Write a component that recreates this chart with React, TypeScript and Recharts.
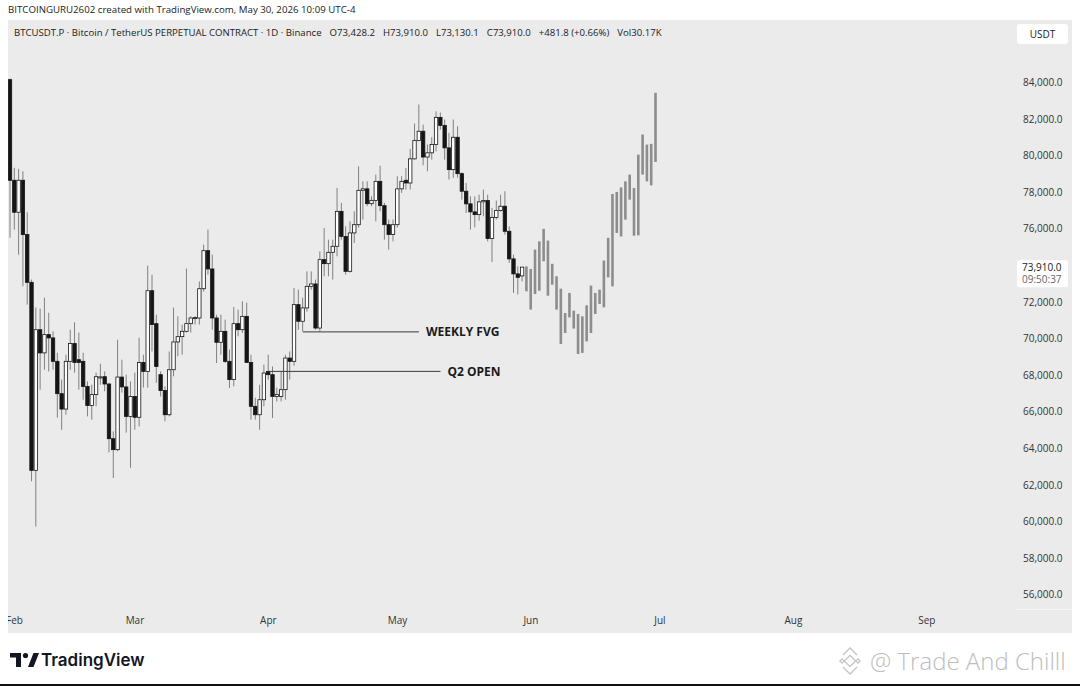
import React from "react";
import { Bar, ComposedChart, ReferenceLine, XAxis, YAxis } from "recharts";

// daily candles, Jan 31 .. May 30 (index 0 = Jan 31)
const OPEN = [
  84160, 78660, 76910, 78660, 75690, 73080, 62800, 70490, 69220, 70220,
  70040, 68760, 66990, 66150, 68760, 69730, 68850, 68760, 67390, 66340,
  66940, 67850, 67920, 67520, 64530, 63930, 67900, 67360, 65750, 66840,
  65700, 68700, 68210, 72620, 70820, 68030, 67160, 65840, 68300, 69820,
  70110, 70400, 70820, 71130, 71130, 72730, 74810, 73810, 71130, 69800,
  70400, 68760, 67760, 70820, 70490, 71220, 68700, 66300, 65840, 66660,
  68210, 68030, 66840, 66840, 67210, 68940, 68760, 71860, 70950, 71680,
  72860, 72990, 70580, 74320, 74100, 74720, 75050, 76960, 75590, 73680,
  75780, 76230, 78110, 78190, 77380, 77560, 78600, 77270, 76230, 75690,
  76230, 78190, 78660, 78510, 79830, 80840, 81340, 79930, 80160, 80610,
  82100, 81660, 80430, 79240, 81010, 79020, 78060, 77370, 76930, 76780,
  77480, 77550, 75470, 76630, 77000, 77240, 75870, 74360, 73540, 73428,
];
const HIGH = [
  84220, 79340, 79280, 79150, 76910, 73230, 71700, 71640, 72240, 71420,
  70400, 69230, 67760, 69120, 70490, 70890, 70330, 69230, 67660, 67480,
  68140, 68630, 68210, 67590, 64930, 69940, 68850, 68030, 67660, 68140,
  70050, 69120, 73990, 73500, 71310, 68210, 67390, 69300, 71700, 71220,
  70770, 73830, 71220, 71220, 73130, 75140, 75960, 74590, 71310, 71310,
  71040, 69400, 71730, 71590, 72040, 71970, 69120, 66770, 67480, 68580,
  69120, 68480, 67320, 68210, 69120, 69300, 72770, 72680, 72240, 73680,
  73680, 73230, 74770, 76050, 75410, 75410, 78240, 77420, 76140, 76410,
  76960, 79420, 78600, 78600, 77780, 78970, 79460, 77420, 76510, 76510,
  78880, 78880, 79330, 80370, 81760, 82800, 81700, 80610, 81010, 82430,
  82360, 81980, 81250, 81980, 81610, 79100, 78510, 77780, 77780, 77870,
  78150, 77870, 77150, 77550, 77870, 78060, 76140, 74590, 73950, 73910,
];
const LOW = [
  75520, 75960, 74590, 72860, 71860, 62200, 59730, 67210, 68300, 68200,
  68300, 65680, 65020, 65840, 68300, 68140, 67210, 66660, 65750, 65570,
  66300, 67480, 67120, 63780, 62380, 63840, 67050, 64860, 62940, 65020,
  65200, 67320, 67320, 69300, 67580, 66840, 65480, 65750, 67940, 69030,
  69120, 70330, 70330, 70770, 70770, 72570, 73500, 70490, 68670, 69120,
  68670, 67300, 67390, 70130, 70310, 68670, 65570, 65570, 65020, 66300,
  67760, 65660, 66570, 66570, 66660, 67760, 68520, 70490, 70400, 71480,
  72680, 70490, 70380, 73410, 73410, 73230, 74500, 75410, 73500, 73610,
  75230, 76070, 76510, 77240, 77240, 76410, 76960, 75410, 74870, 75320,
  76070, 77970, 78150, 78150, 79790, 80790, 79480, 79150, 79790, 80240,
  81430, 79790, 78700, 78790, 78800, 77600, 76870, 75960, 76090, 76450,
  76690, 75320, 74190, 76510, 76950, 75690, 74140, 72500, 72410, 73130,
];
const CLOSE = [
  78660, 76910, 78660, 75690, 73080, 62800, 70490, 69220, 70220, 70040,
  68760, 66990, 66150, 68760, 69730, 68700, 68700, 67390, 66340, 66940,
  67920, 67910, 67520, 64530, 63930, 67900, 67360, 65750, 66840, 65700,
  68700, 68210, 72620, 70770, 68480, 67160, 65840, 68300, 69820, 70110,
  70400, 70820, 71130, 71150, 72730, 74810, 73810, 71130, 69800, 70400,
  68760, 67760, 70820, 70490, 71220, 68700, 66300, 65840, 66660, 68120,
  68030, 66840, 66940, 67210, 68940, 68760, 71860, 70950, 71680, 72860,
  72990, 70580, 74320, 74100, 74720, 75050, 76960, 75590, 73680, 75780,
  76230, 78110, 78190, 77380, 77560, 78600, 77270, 76230, 75690, 76230,
  78190, 78600, 78510, 79830, 80840, 81340, 79930, 80160, 80610, 82100,
  81660, 80430, 79240, 81010, 79020, 78060, 77370, 76930, 76780, 77480,
  77550, 75470, 76630, 77000, 77240, 75870, 74360, 73540, 73350, 73910,
];

// projected path (bars pattern), May 31 .. Jun 30
const PROJ_HIGH = [
  73950, 73810, 74870, 75320, 76000, 75360, 74090, 73410, 72730, 71400,
  72500, 71530, 71350, 71220, 71820, 72900, 72500, 72680, 74270, 75510,
  77910, 78020, 78270, 78600, 78970, 78240, 80060, 81160, 80610, 80650,
  83440,
];
const PROJ_LOW = [
  72590, 71590, 72440, 72620, 74230, 72350, 72950, 71590, 69710, 70310,
  71160, 70550, 69160, 69220, 69850, 70310, 71350, 71900, 71710, 73350,
  72860, 75780, 75590, 76510, 77600, 75630, 75650, 78970, 78600, 78380,
  79660,
];

const MONTHS = ["Feb", "Mar", "Apr", "May", "Jun", "Jul", "Aug", "Sep"];
const MONTH_START = [1, 29, 60, 90, 121, 151, 182, 213];
// 74,000 sits under the last-price tag, so it is not printed
const PRICE_TICKS = [
  56000, 58000, 60000, 62000, 64000, 66000, 68000, 70000,
  72000, 76000, 78000, 80000, 82000, 84000,
];
const TOTAL_DAYS = 234;
const LAST_PRICE = 73910;
const WEEKLY_FVG = 70370;
const Q2_OPEN = 68210;

const data = Array.from({ length: TOTAL_DAYS }, (_, i) => {
  if (i < OPEN.length) {
    return { i, kind: "candle", o: OPEN[i], c: CLOSE[i], range: [LOW[i], HIGH[i]] };
  }
  const j = i - OPEN.length;
  if (j < PROJ_HIGH.length) {
    return { i, kind: "proj", range: [PROJ_LOW[j], PROJ_HIGH[j]] };
  }
  return { i, kind: "none", range: null };
});

const fmtPrice = (v: number) =>
  v.toLocaleString("en-US", { minimumFractionDigits: 1, maximumFractionDigits: 1 });

function Candle(props: any) {
  const { x, y, width, height, payload } = props;
  if (!payload || !payload.range) return null;
  const [lo, hi] = payload.range;
  const top = Math.min(y, y + height);
  const h = Math.abs(height);
  const cx = x + width / 2;
  if (payload.kind === "proj") {
    return <rect x={cx - 1.3} y={top} width={2.6} height={h} fill="#8d8d8d" />;
  }
  const py = (v: number) => top + ((hi - v) / (hi - lo || 1)) * h;
  const bTop = py(Math.max(payload.o, payload.c));
  const bBot = py(Math.min(payload.o, payload.c));
  const up = payload.c >= payload.o;
  return (
    <g>
      <line x1={cx} x2={cx} y1={top} y2={top + h} stroke="#808080" strokeWidth={1} />
      <rect
        x={cx - 1.7}
        y={bTop}
        width={3.4}
        height={Math.max(1, bBot - bTop)}
        fill={up ? "#ffffff" : "#151515"}
        stroke="#151515"
        strokeWidth={0.8}
      />
    </g>
  );
}

function PriceTag(props: any) {
  const vb = props.viewBox;
  if (!vb) return null;
  const x = vb.x + vb.width + 2;
  const y = vb.y;
  return (
    <g>
      <rect x={x} y={y - 7} width={51} height={27} rx={2} fill="#ffffff" />
      <text x={x + 5} y={y + 3.5} fontSize={10} fill="#222">{fmtPrice(LAST_PRICE)}</text>
      <text x={x + 5} y={y + 15.5} fontSize={10} fill="#666">09:50:37</text>
    </g>
  );
}

const lineLabel = (value: string) => ({
  value,
  position: "right" as const,
  offset: 7,
  fill: "#1a1a1a",
  fontSize: 12,
  fontWeight: 700,
});

export default function App() {
  return (
    <div
      style={{
        position: "absolute",
        left: 0,
        top: 0,
        width: 1080,
        height: 686,
        background: "#fff",
        overflow: "hidden",
        fontFamily: '"Open Sans", sans-serif',
      }}
    >
      <div style={{ position: "absolute", left: 8, top: 3, fontSize: 9.7, color: "#222", whiteSpace: "nowrap" }}>
        BITCOINGURU2602 created with TradingView.com, May 30, 2026 10:09 UTC-4
      </div>
      <div style={{ position: "absolute", left: 8, top: 20, width: 1064, height: 613, background: "#ebebeb" }}>
        <ComposedChart width={1064} height={613} data={data} margin={{ top: 26, right: 0, bottom: 0, left: 0 }}>
          <XAxis
            dataKey="i"
            interval={0}
            height={20}
            axisLine={false}
            tickLine={false}
            tickSize={0}
            tickMargin={4}
            tick={{ fontSize: 10, fill: "#333" }}
            tickFormatter={(v: number) => {
              const k = MONTH_START.indexOf(v);
              return k >= 0 ? MONTHS[k] : "";
            }}
          />
          <YAxis
            orientation="right"
            width={57}
            domain={[55000, 86000]}
            ticks={PRICE_TICKS}
            allowDataOverflow
            axisLine={false}
            tickLine={false}
            tickSize={0}
            tickMargin={8}
            tick={{ fontSize: 10, fill: "#333" }}
            tickFormatter={fmtPrice}
          />
          <Bar dataKey="range" barSize={4} shape={Candle} isAnimationActive={false} />
          <ReferenceLine
            segment={[{ x: 68, y: WEEKLY_FVG }, { x: 95, y: WEEKLY_FVG }]}
            stroke="#3c3c3c"
            strokeWidth={1}
            label={lineLabel("WEEKLY FVG")}
          />
          <ReferenceLine
            segment={[{ x: 60, y: Q2_OPEN }, { x: 100, y: Q2_OPEN }]}
            stroke="#3c3c3c"
            strokeWidth={1}
            label={lineLabel("Q2 OPEN")}
          />
          <ReferenceLine y={LAST_PRICE} stroke="none" label={(p: any) => <PriceTag {...p} />} />
        </ComposedChart>
        <div style={{ position: "absolute", left: 6, top: 6, fontSize: 9.6, color: "#222", whiteSpace: "nowrap" }}>
          BTCUSDT.P · Bitcoin / TetherUS PERPETUAL CONTRACT · 1D · Binance
          <span style={{ marginLeft: 8 }}>O73,428.2</span>
          <span style={{ marginLeft: 8 }}>H73,910.0</span>
          <span style={{ marginLeft: 8 }}>L73,130.1</span>
          <span style={{ marginLeft: 8 }}>C73,910.0</span>
          <span style={{ marginLeft: 8 }}>+481.8 (+0.66%)</span>
          <span style={{ marginLeft: 8 }}>Vol30.17K</span>
        </div>
        <div
          style={{
            position: "absolute",
            left: 1009,
            top: 4,
            width: 51,
            height: 20,
            background: "#fff",
            borderRadius: 3,
            fontSize: 10,
            color: "#222",
            lineHeight: "20px",
            textAlign: "center",
          }}
        >
          USDT
        </div>
        <div style={{ position: "absolute", left: 1009, top: 589, width: 55, height: 1, background: "#f6f6f6" }} />
      </div>
      <svg style={{ position: "absolute", left: 8, top: 648 }} width={140} height={24}>
        <rect x={2} y={5} width={11} height={4.5} fill="#131722" />
        <rect x={8} y={5} width={5} height={14} fill="#131722" />
        <circle cx={17.5} cy={7.5} r={2.6} fill="#131722" />
        <polygon points="20,19 25.5,19 31,5 25.5,5" fill="#131722" />
        <text x={33} y={18} fontSize={17} fontWeight={600} fill="#131722" fontFamily="Inter, 'Open Sans', sans-serif">
          TradingView
        </text>
      </svg>
      <svg style={{ position: "absolute", left: 834, top: 644 }} width={246} height={36}>
        <g fill="none" stroke="#c4c4c4" strokeWidth={1.3}>
          <rect x={12} y={13} width={8} height={8} transform="rotate(45 16 17)" />
          <rect x={6.5} y={15.5} width={3} height={3} transform="rotate(45 8 17)" />
          <rect x={22.5} y={15.5} width={3} height={3} transform="rotate(45 24 17)" />
          <polyline points="9,11 16,4 23,11" />
          <polyline points="9,23 16,30 23,23" />
        </g>
        <text x={36} y={26} fontSize={24} fill="#bdbdbd" fontWeight={300} fontFamily="'Open Sans', sans-serif">
          @ Trade And Chilll
        </text>
      </svg>
      <div style={{ position: "absolute", left: 0, top: 684, width: 1080, height: 2, background: "#111" }} />
    </div>
  );
}
